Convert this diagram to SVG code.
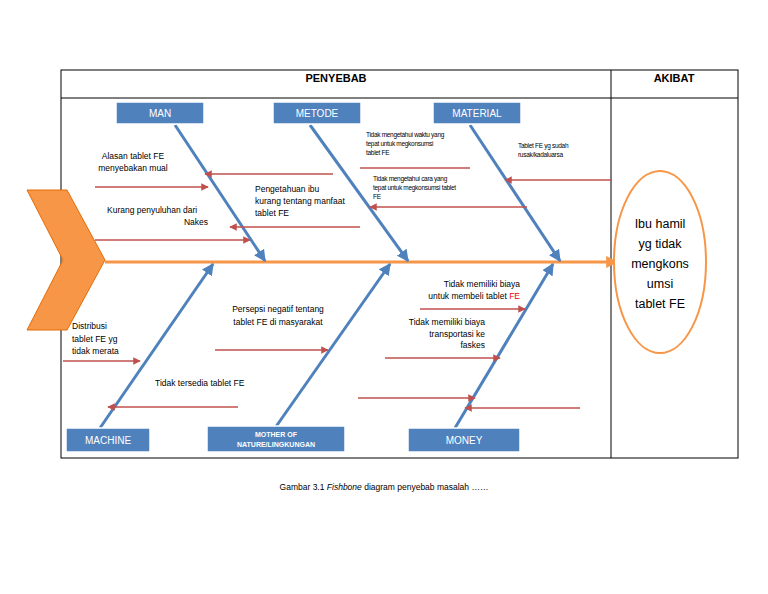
<svg xmlns="http://www.w3.org/2000/svg" width="768" height="594" viewBox="0 0 768 594">
<defs>
<marker id="ra" viewBox="0 0 10 10" refX="9" refY="5" markerWidth="5" markerHeight="5" orient="auto"><path d="M0,0L10,5L0,10z" fill="#c0504d"/></marker>
<marker id="ba" viewBox="0 0 10 10" refX="9" refY="5" markerWidth="4" markerHeight="4" orient="auto"><path d="M0,0L10,5L0,10z" fill="#4f81bd"/></marker>
<marker id="oa" viewBox="0 0 10 10" refX="9" refY="5" markerWidth="4" markerHeight="4" orient="auto"><path d="M0,0L10,5L0,10z" fill="#f79646"/></marker>
</defs>
<style>
text{font-family:"Liberation Sans",Arial,sans-serif;fill:#000}
.t{font-size:8.5px}
.s{font-size:6.5px;letter-spacing:-0.3px}
.h{font-size:11px;font-weight:bold;text-anchor:middle}
.bx{fill:#4f81bd;stroke:#fff;stroke-width:1.5}
.bl{fill:#fff;font-size:10px;text-anchor:middle}
.bls{fill:#fff;font-size:7px;font-weight:bold;text-anchor:middle}
.bone{stroke:#4f81bd;stroke-width:3;marker-end:url(#ba)}
.r{stroke:#c0504d;stroke-width:1.5;marker-end:url(#ra)}
.rn{stroke:#c0504d;stroke-width:1.5}
</style>
<rect width="768" height="594" fill="#fff"/>
<g id="frame" fill="none" stroke="#000" stroke-width="1">
<rect x="61" y="70" width="677" height="388"/>
<line x1="61" y1="98" x2="738" y2="98"/>
<line x1="611" y1="70" x2="611" y2="458"/>
</g>
<text class="h" x="336" y="82">PENYEBAB</text>
<text class="h" x="674" y="82">AKIBAT</text>
<g id="connectors">
<line x1="105" y1="262" x2="617" y2="262" stroke="#f79646" stroke-width="3" marker-end="url(#oa)"/>
<line class="bone" x1="175" y1="125" x2="265" y2="261"/>
<line class="bone" x1="310" y1="125" x2="408" y2="261"/>
<line class="bone" x1="470" y1="125" x2="560" y2="261"/>
<line class="bone" x1="100" y1="428" x2="213" y2="264"/>
<line class="bone" x1="275" y1="428" x2="390" y2="264"/>
<line class="bone" x1="455" y1="428" x2="553" y2="264"/>
<line class="r" x1="95" y1="187" x2="208" y2="187"/>
<line class="r" x1="95" y1="240" x2="250" y2="240"/>
<line class="r" x1="333" y1="174" x2="205" y2="174"/>
<line class="r" x1="360" y1="227" x2="230" y2="227"/>
<line class="rn" x1="360" y1="168" x2="470" y2="168"/>
<line class="r" x1="612" y1="180" x2="505" y2="180"/>
<line class="r" x1="527" y1="207" x2="370" y2="207"/>
<line class="r" x1="420" y1="309" x2="525" y2="309"/>
<line class="r" x1="385" y1="358" x2="500" y2="358"/>
<line class="r" x1="358" y1="398" x2="475" y2="398"/>
<line class="r" x1="580" y1="408" x2="465" y2="408"/>
<line class="r" x1="215" y1="350" x2="328" y2="350"/>
<line class="r" x1="63" y1="361" x2="140" y2="361"/>
<line class="r" x1="238" y1="407" x2="108" y2="407"/>
</g>
<g id="head"><polygon points="27,190 67,190 105,260 67,330 27,330 63,260" fill="#f79646" stroke="#e36c09"/></g>
<g id="akibat"><ellipse cx="660" cy="262" rx="46" ry="91" fill="#fff" stroke="#f79646" stroke-width="2"/>
<text x="660" y="228" text-anchor="middle" font-size="12.5">Ibu hamil</text>
<text x="660" y="248" text-anchor="middle" font-size="12.5">yg tidak</text>
<text x="660" y="268" text-anchor="middle" font-size="12.5">mengkons</text>
<text x="660" y="288" text-anchor="middle" font-size="12.5">umsi</text>
<text x="660" y="308" text-anchor="middle" font-size="12.5">tablet FE</text></g>
<g id="man"><rect class="bx" x="116" y="102" width="88" height="22"/><text class="bl" x="160" y="117">MAN</text></g>
<g id="metode"><rect class="bx" x="273" y="102" width="88" height="22"/><text class="bl" x="317" y="117">METODE</text></g>
<g id="material"><rect class="bx" x="433" y="102" width="88" height="22"/><text class="bl" x="477" y="117">MATERIAL</text></g>
<g id="machine"><rect class="bx" x="66" y="428" width="84" height="24"/><text class="bl" x="108" y="444">MACHINE</text></g>
<g id="mother"><rect class="bx" x="207" y="426" width="138" height="26"/><text class="bls" x="276" y="437">MOTHER OF</text><text class="bls" x="276" y="447">NATURE/LINGKUNGAN</text></g>
<g id="money"><rect class="bx" x="408" y="428" width="112" height="24"/><text class="bl" x="464" y="444">MONEY</text></g>
<g id="labels">
<text class="t" x="133" y="159" text-anchor="middle">Alasan tablet FE</text>
<text class="t" x="133" y="171" text-anchor="middle">menyebakan mual</text>
<text class="t" x="107" y="213">Kurang penyuluhan dari</text>
<text class="t" x="208" y="225" text-anchor="end">Nakes</text>
<text class="t" x="255" y="192">Pengetahuan ibu</text>
<text class="t" x="255" y="204">kurang tentang manfaat</text>
<text class="t" x="255" y="216">tablet FE</text>
<text class="s" x="366" y="137">Tidak mengetahui waktu yang</text>
<text class="s" x="366" y="146">tepat untuk megkonsumsi</text>
<text class="s" x="366" y="155">tablet FE</text>
<text class="s" x="518" y="148">Tablet FE yg sudah</text>
<text class="s" x="518" y="157">rusak/kadaluarsa</text>
<text class="s" x="373" y="181">Tidak mengetahui cara yang</text>
<text class="s" x="373" y="190">tepat untuk megkonsumsi tablet</text>
<text class="s" x="373" y="199">FE</text>
<text class="t" x="520" y="287" text-anchor="end">Tidak memiliki biaya</text>
<text class="t" x="520" y="299" text-anchor="end">untuk membeli tablet <tspan fill="#e00">FE</tspan></text>
<text class="t" x="485" y="325" text-anchor="end">Tidak memiliki biaya</text>
<text class="t" x="485" y="337" text-anchor="end">transportasi ke</text>
<text class="t" x="485" y="348" text-anchor="end">faskes</text>
<text class="t" x="278" y="312" text-anchor="middle">Persepsi negatif tentang</text>
<text class="t" x="278" y="325" text-anchor="middle">tablet FE di masyarakat</text>
<text class="t" x="72" y="329">Distribusi</text>
<text class="t" x="72" y="342">tablet FE yg</text>
<text class="t" x="72" y="354">tidak merata</text>
<text class="t" x="155" y="386">Tidak tersedia tablet FE</text>
</g>
<text x="384" y="490" text-anchor="middle" font-size="8.5">Gambar 3.1 <tspan font-style="italic">Fishbone</tspan> diagram penyebab masalah ……</text>
</svg>
